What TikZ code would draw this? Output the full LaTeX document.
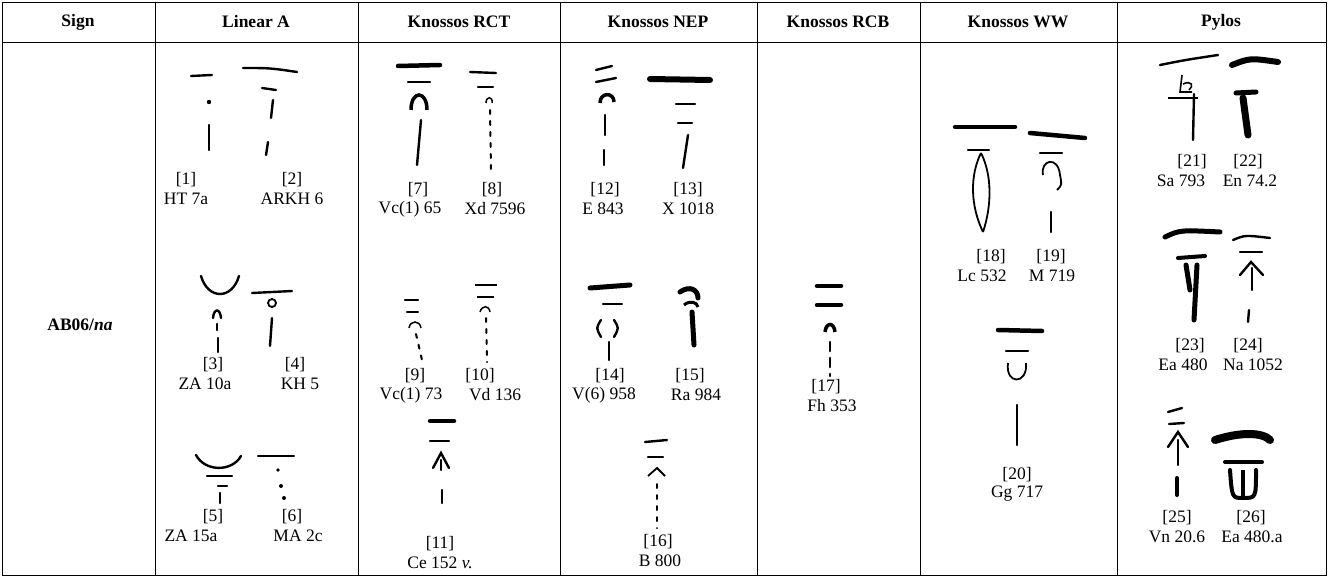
\documentclass[tikz,border=0pt]{standalone}
\usepackage{fontspec}
\setmainfont{Liberation Serif}
\begin{document}
\begin{tikzpicture}[x=1pt,y=-1pt,
 lab/.style={font=\fontsize{17.5}{19}\selectfont,inner sep=0pt},
 hd/.style={font=\bfseries\fontsize{17.5}{19}\selectfont,inner sep=0pt},
 g/.style={line width=2.4pt,line cap=round},
 gt/.style={line width=4.5pt,line cap=round},
 gd/.style={line width=2pt,line cap=round,dash pattern=on 4pt off 7pt}]
\useasboundingbox (0,0) rectangle (1329,578);
\draw[line width=0.8pt] (2,2) rectangle (1326,575);
\draw[line width=0.8pt] (2,42) -- (1326,42);
\foreach \x in {155,358,560,757,920,1117} \draw[line width=0.8pt] (\x,2) -- (\x,575);
\node[hd] (h1) at (78,22) {Sign};
\node[hd] (h2) at (256,22) {Linear A};
\node[hd] (h3) at (459,22) {Knossos RCT};
\node[hd] (h4) at (658,22) {Knossos NEP};
\node[hd] (h5) at (838,22) {Knossos RCB};
\node[hd] (h6) at (1018,22) {Knossos WW};
\node[hd] (h7) at (1221,22) {Pylos};
\node[hd] (s) at (80,325) {AB06/\textit{na}};
\foreach \n/\a/\b/\y/\t/\u in {
1/186/186/180/{[1]}/{HT 7a},2/292/292/180/{[2]}/{ARKH 6},
3/213/205/365/{[3]}/{ZA 10a},4/295/300/365/{[4]}/{KH 5},
5/213/191/517/{[5]}/{ZA 15a},6/292/298/517/{[6]}/{MA 2c},
7/418/410/190/{[7]}/{Vc(1) 65},8/492/495/190/{[8]}/{Xd 7596},
9/415/411/376/{[9]}/{Vc(1) 73},10/480/495/376/{[10]}/{Vd 136},
11/440/440/544/{[11]}/{Ce 152 \textit{v.}},
12/605/603/190/{[12]}/{E 843},13/688/688/190/{[13]}/{X 1018},
14/610/604/376/{[14]}/{V(6) 958},15/690/696/376/{[15]}/{Ra 984},
16/658/660/542/{[16]}/{B 800},17/826/832/387/{[17]}/{Fh 353},
18/991/982/257/{[18]}/{Lc 532},19/1051/1052/257/{[19]}/{M 719},
20/1017/1017/475/{[20]}/{Gg 717},
21/1192/1181/162/{[21]}/{Sa 793},22/1248/1250/162/{[22]}/{En 74.2},
23/1190/1183/346/{[23]}/{Ea 480},24/1248/1253/346/{[24]}/{Na 1052},
25/1177/1177/518/{[25]}/{Vn 20.6},26/1251/1252/518/{[26]}/{Ea 480.a}}{
\node[lab] (n\n) at (\a,\y) {\t};
\node[lab] (m\n) at (\b,\y+19) {\u};}
% glyphs Linear A
\draw[g] (191,76) -- (212,75);
\fill (209,102) circle (2.2);
\draw[g] (209,125) -- (209,150);
\draw[g] (243,68) .. controls (270,68) .. (297,72);
\draw[g] (262,88) -- (276,90);
\draw[g] (273,100) -- (271,118); \draw[g] (268,142) -- (266,155);
\draw[g] (201,276) .. controls (208,300) and (232,300) .. (239,276);
\draw[g] (213,318) .. controls (214,308) and (220,308) .. (221,318);
\draw[g] (217,324) -- (217,330); \draw[g] (218,338) -- (218,352);
\draw[g] (252,293) -- (292,291);
\draw[line width=1.8pt] (272,303) circle (4);
\draw[g] (272,318) -- (270,346);
\draw[g] (196,455) .. controls (205,472) and (232,472) .. (241,456);
\draw[g] (207,476) -- (232,476);
\draw[g] (218,486) -- (227,486);
\draw[g] (220,493) -- (220,503);
\draw[g] (258,456) -- (294,456);
\fill (278,470) circle (1.8); \fill (281,486) circle (2); \fill (284,498) circle (2);
% RCT
\draw[gt] (398,66) -- (440,65);
\draw[g] (408,82) -- (430,82);
\draw[line width=3.5pt] (411,110) .. controls (411,90) and (427,90) .. (427,110);
\draw[g] (421,120) -- (417,165);
\draw[g] (470,72) -- (496,73); \draw[g] (478,87) -- (493,87);
\draw[line width=1.5pt] (486,103) .. controls (486,96) and (493,96) .. (492,103);
\draw[gd] (490,110) -- (491,170);
\draw[g] (405,300) -- (418,300); \draw[g] (407,312) -- (418,312);
\draw[line width=1.5pt] (409,328) .. controls (410,320) and (420,320) .. (421,328);
\draw[gd] (416,334) -- (422,360);
\draw[line width=1.6pt] (475,285) -- (497,285); \draw[line width=1.6pt] (477,297) -- (494,297);
\draw[line width=1.5pt] (480,312) .. controls (482,305) and (489,305) .. (490,312);
\draw[gd] (486,318) -- (487,362);
\draw[gt] (430,421) -- (454,421);
\draw[g] (430,441) -- (449,441);
\draw[g] (433,468) -- (441,453) -- (449,468);
\draw[g] (441,460) -- (441,470);
\draw[g] (442,490) -- (442,503);
% NEP
\draw[g] (596,70) -- (612,66); \draw[g] (596,82) -- (616,78);
\draw[line width=3.5pt] (600,103) .. controls (600,92) and (614,92) .. (614,102);
\draw[g] (605,115) -- (605,135); \draw[g] (604,150) -- (604,165);
\draw[line width=6pt,line cap=round] (650,79) -- (710,80);
\draw[g] (676,104) -- (695,104); \draw[g] (678,123) -- (692,123);
\draw[g] (688,135) -- (683,168);
\draw[line width=5pt,line cap=round] (590,288) -- (630,285);
\draw[g] (603,304) -- (622,304);
\draw[g] (601,320) .. controls (596,328) .. (601,337);
\draw[g] (614,320) .. controls (619,328) .. (614,337);
\draw[g] (609,342) -- (609,360);
\draw[line width=5pt,line cap=round] (680,292) .. controls (690,285) and (698,290) .. (698,298);
\draw[line width=3pt] (684,305) .. controls (690,300) and (697,302) .. (698,307);
\draw[line width=5pt,line cap=round] (692,312) -- (694,345);
\draw[g] (645,442) -- (667,440); \draw[g] (648,457) -- (663,457);
\draw[line width=1.8pt] (648,476) -- (657,468) -- (665,476);
\draw[gd] (657,484) -- (657,528);
% RCB
\draw[gt] (817,286) -- (841,286); \draw[gt] (817,305) -- (841,305);
\draw[line width=3.5pt] (825,332) .. controls (826,322) and (834,322) .. (835,332);
\draw[line width=2.6pt,line cap=round,dash pattern=on 9pt off 7pt] (830,342) -- (830,376);
% WW
\draw[gt] (955,127) -- (1015,127);
\draw[g] (968,150) -- (989,150);
\draw[line width=1.8pt] (981,153) .. controls (970,175) and (970,205) .. (983,232);
\draw[line width=1.8pt] (981,153) .. controls (992,175) and (992,205) .. (983,232);
\draw[gt] (1030,133) -- (1085,138);
\draw[g] (1040,153) -- (1062,153);
\draw[line width=1.8pt] (1043,175) .. controls (1040,160) and (1058,155) .. (1060,175) .. controls (1062,185) .. (1057,190);
\draw[g] (1051,212) -- (1051,232);
\draw[gt] (998,330) -- (1042,331);
\draw[g] (1006,351) -- (1028,351);
\draw[line width=1.8pt] (1008,363) .. controls (1005,385) and (1028,385) .. (1026,363);
\draw[g] (1017,405) -- (1017,445);
% Pylos
\draw[g] (1160,65) .. controls (1185,60) .. (1218,55);
\draw[line width=1.6pt] (1182,75) -- (1180,92) -- (1192,92);
\draw[line width=1.6pt] (1183,84) .. controls (1192,80) and (1194,86) .. (1189,90);
\draw[line width=1.6pt] (1168,98) -- (1198,98);
\draw[g] (1194,94) -- (1193,140);
\draw[line width=6pt,line cap=round] (1232,65) .. controls (1250,58) .. (1278,62);
\draw[line width=5pt,line cap=round] (1236,93) -- (1256,92);
\draw[line width=7pt,line cap=round] (1243,98) -- (1248,135);
\draw[line width=5pt,line cap=round] (1165,237) .. controls (1180,230) .. (1220,232);
\draw[line width=4pt,line cap=round] (1178,258) -- (1205,256);
\draw[line width=5pt,line cap=round] (1186,265) -- (1190,290);
\draw[line width=5pt,line cap=round] (1197,265) -- (1194,320);
\draw[g] (1233,240) .. controls (1245,235) .. (1270,238);
\draw[g] (1240,252) -- (1262,252);
\draw[g] (1240,275) -- (1251,262) -- (1263,275);
\draw[g] (1252,268) -- (1252,290);
\draw[g] (1249,310) -- (1248,322);
\draw[g] (1168,412) -- (1182,408); \draw[g] (1169,424) -- (1184,423);
\draw[g] (1168,447) -- (1178,432) -- (1188,447);
\draw[g] (1178,440) -- (1178,465);
\draw[line width=4pt,line cap=round] (1177,478) -- (1177,495);
\draw[line width=8pt,line cap=round] (1215,440) .. controls (1240,432) and (1262,432) .. (1270,440);
\draw[line width=4pt,line cap=round] (1225,462) -- (1262,462);
\draw[line width=4pt,line cap=round] (1230,470) .. controls (1232,498) .. (1243,498) .. controls (1256,498) .. (1256,470);
\draw[line width=4pt] (1243,470) -- (1243,496);
\end{tikzpicture}
\end{document}
